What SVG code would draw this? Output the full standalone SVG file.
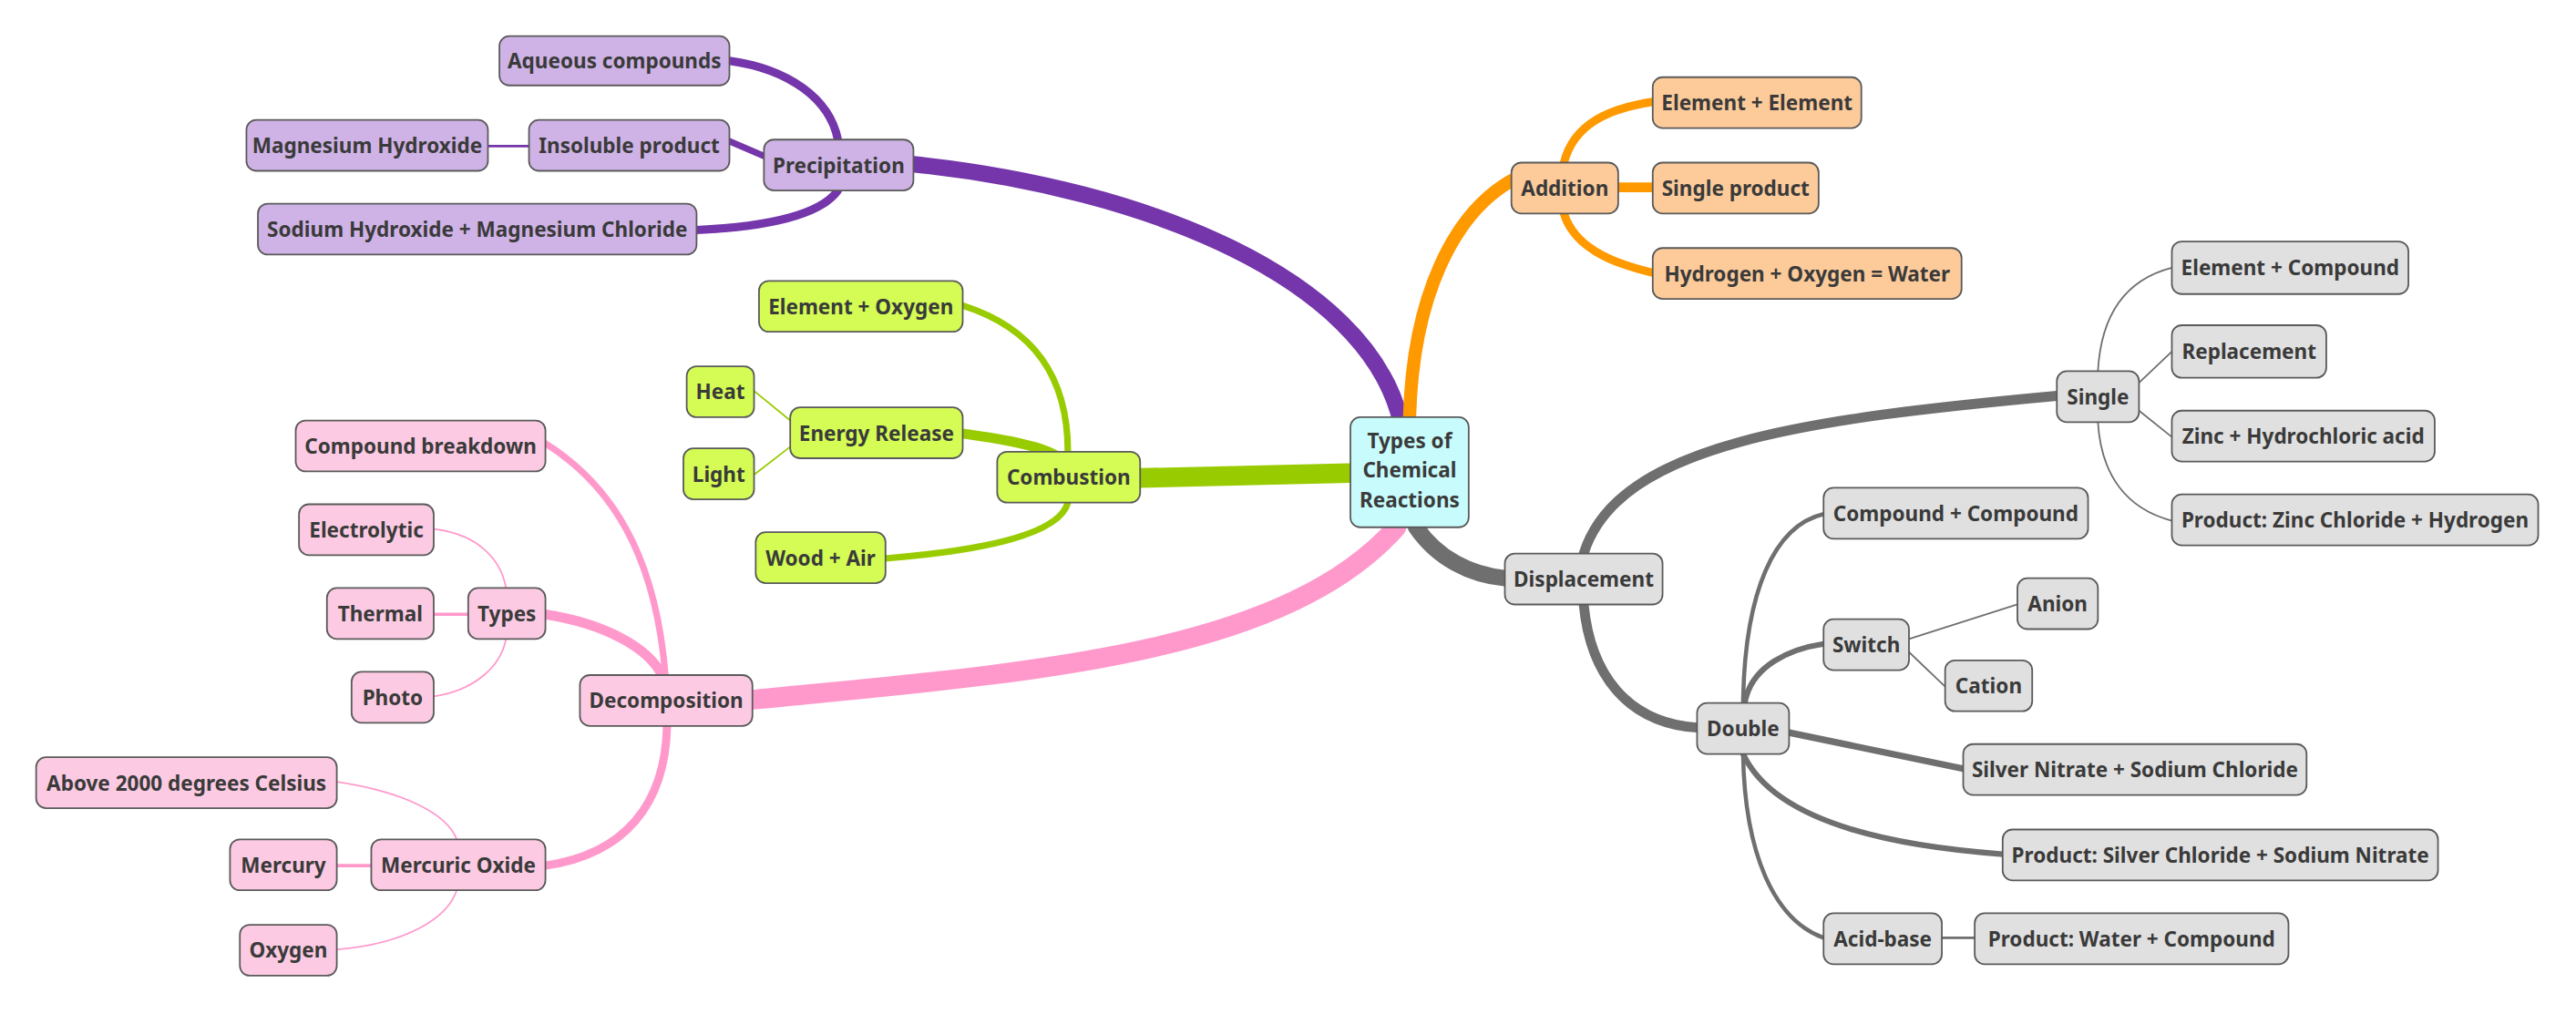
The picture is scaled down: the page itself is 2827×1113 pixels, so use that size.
<svg xmlns="http://www.w3.org/2000/svg" width="2827" height="1113" viewBox="0 0 2827 1113">
<style>
text{font-family:"Noto Sans","DejaVu Sans",sans-serif;font-weight:bold;font-size:12.5px;fill:#3a3a3a;text-anchor:middle;dominant-baseline:central}
rect{stroke:#5a5a5a;stroke-width:1;rx:6px}
.p rect{fill:#cfb3e6}.g rect{fill:#d4fc54}.o rect{fill:#fdcb9a}.k rect{fill:#fccbe3}.y rect{fill:#e0e0e0}
path{fill:none;stroke-linecap:round}
.cp{stroke:#7436aa}.cg{stroke:#99cc00}.co{stroke:#ff9900}.ck{stroke:#ff99cc}.cy{stroke:#6f6f6f}
</style>
<rect x="0" y="0" width="2827" height="1113" style="fill:#fff;stroke:none"/>
<g transform="scale(1.80293)">
<g id="connectors">
<path class="cp" stroke-width="10" d="M852,254 C830,170 700,115 556,100"/>
<path class="cp" stroke-width="5" d="M510,85 C505,60 480,42 444,37"/>
<path class="cp" stroke-width="4" d="M465,95 L444,86"/>
<path class="cp" stroke-width="1.5" d="M322,89 L297,89"/>
<path class="cp" stroke-width="5" d="M510,116 C500,130 470,138 424,140"/>
<path class="cg" stroke-width="12" d="M822,288 L694,291"/>
<path class="cg" stroke-width="4" d="M650,275 C650,230 630,200 586,186"/>
<path class="cg" stroke-width="6" d="M586,264 C615,268 635,272 644,278"/>
<path class="cg" stroke-width="4" d="M650,306 C645,325 600,335 539,340"/>
<path class="cg" stroke-width="1" d="M459,238 L481,256"/>
<path class="cg" stroke-width="1" d="M459,289 L481,272"/>
<path class="co" stroke-width="8" d="M858,254 C860,180 885,130 920,110"/>
<path class="co" stroke-width="5" d="M952,99 C958,75 980,66 1006,62"/>
<path class="co" stroke-width="6" d="M985,114 L1006,114"/>
<path class="co" stroke-width="5" d="M952,130 C958,150 980,160 1006,166"/>
<path class="ck" stroke-width="12" d="M850,321 C780,400 620,410 458,426"/>
<path class="ck" stroke-width="4" d="M332,270 C380,300 400,350 405,411"/>
<path class="ck" stroke-width="6" d="M332,374 C370,380 395,395 403,411"/>
<path class="ck" stroke-width="5" d="M406,442 C405,490 380,520 332,527"/>
<path class="ck" stroke-width="1" d="M308,358 C305,340 290,325 264,322"/>
<path class="ck" stroke-width="2" d="M264,374 L285,374"/>
<path class="ck" stroke-width="1" d="M308,389 C305,405 290,420 264,424"/>
<path class="ck" stroke-width="1" d="M278,511 C272,495 245,482 205,476"/>
<path class="ck" stroke-width="2" d="M205,527 L226,527"/>
<path class="ck" stroke-width="1" d="M278,542 C272,560 245,575 205,578"/>
<path class="cy" stroke-width="10" d="M862,321 C875,340 895,350 916,352"/>
<path class="cy" stroke-width="6" d="M964,337 C985,270 1100,255 1252,241"/>
<path class="cy" stroke-width="6" d="M964,368 C968,410 990,440 1033,443"/>
<path class="cy" stroke-width="1" d="M1277,226 C1279,190 1295,170 1322,163"/>
<path class="cy" stroke-width="1" d="M1302,233 L1322,214"/>
<path class="cy" stroke-width="1" d="M1302,250 L1322,266"/>
<path class="cy" stroke-width="1" d="M1277,257 C1279,290 1295,310 1322,317"/>
<path class="cy" stroke-width="2.5" d="M1061,428 C1062,360 1080,320 1110,313"/>
<path class="cy" stroke-width="3.5" d="M1062,428 C1066,405 1090,395 1110,392"/>
<path class="cy" stroke-width="4" d="M1089,446 L1195,468"/>
<path class="cy" stroke-width="3.5" d="M1061,459 C1080,500 1150,515 1219,520"/>
<path class="cy" stroke-width="2.5" d="M1061,459 C1062,520 1080,560 1110,571"/>
<path class="cy" stroke-width="1" d="M1162,389 L1228,368"/>
<path class="cy" stroke-width="1" d="M1162,397 L1184,418"/>
<path class="cy" stroke-width="1.5" d="M1182,571 L1202,571"/>
</g>
<g id="root"><rect x="822" y="254" width="72" height="67" style="fill:#c8fcfc"/><text x="858" y="268">Types of</text><text x="858" y="286">Chemical</text><text x="858" y="304">Reactions</text></g>
<g class="p">
<g id="precipitation"><rect x="465" y="85" width="91" height="31"/><text x="510.5" y="100.5">Precipitation</text></g>
<g id="aqueous"><rect x="304" y="22" width="140" height="30"/><text x="374" y="37">Aqueous compounds</text></g>
<g id="insoluble"><rect x="322" y="73" width="122" height="31"/><text x="383" y="88.5">Insoluble product</text></g>
<g id="mghydroxide"><rect x="150" y="73" width="147" height="31"/><text x="223.5" y="88.5">Magnesium Hydroxide</text></g>
<g id="naoh"><rect x="157" y="124" width="267" height="31"/><text x="290.5" y="139.5">Sodium Hydroxide + Magnesium Chloride</text></g>
</g>
<g class="g">
<g id="combustion"><rect x="607" y="275" width="87" height="31"/><text x="650.5" y="290.5">Combustion</text></g>
<g id="elemoxy"><rect x="462" y="171" width="124" height="31"/><text x="524" y="186.5">Element + Oxygen</text></g>
<g id="energy"><rect x="481" y="248" width="105" height="31"/><text x="533.5" y="263.5">Energy Release</text></g>
<g id="heat"><rect x="418" y="223" width="41" height="31"/><text x="438.5" y="238.5">Heat</text></g>
<g id="light"><rect x="416" y="273" width="43" height="31"/><text x="437.5" y="288.5">Light</text></g>
<g id="wood"><rect x="460" y="324" width="79" height="31"/><text x="499.5" y="339.5">Wood + Air</text></g>
</g>
<g class="o">
<g id="addition"><rect x="920" y="99" width="65" height="31"/><text x="952.5" y="114.5">Addition</text></g>
<g id="elemelem"><rect x="1006" y="47" width="127" height="31"/><text x="1069.5" y="62.5">Element + Element</text></g>
<g id="singleproduct"><rect x="1006" y="99" width="101" height="31"/><text x="1056.5" y="114.5">Single product</text></g>
<g id="water"><rect x="1006" y="151" width="188" height="31"/><text x="1100" y="166.5">Hydrogen + Oxygen = Water</text></g>
</g>
<g class="k">
<g id="decomposition"><rect x="353" y="411" width="105" height="31"/><text x="405.5" y="426.5">Decomposition</text></g>
<g id="breakdown"><rect x="180" y="256" width="152" height="31"/><text x="256" y="271.5">Compound breakdown</text></g>
<g id="types"><rect x="285" y="358" width="47" height="31"/><text x="308.5" y="373.5">Types</text></g>
<g id="electrolytic"><rect x="182" y="307" width="82" height="31"/><text x="223" y="322.5">Electrolytic</text></g>
<g id="thermal"><rect x="199" y="358" width="65" height="31"/><text x="231.5" y="373.5">Thermal</text></g>
<g id="photo"><rect x="214" y="409" width="50" height="31"/><text x="239" y="424.5">Photo</text></g>
<g id="mercuric"><rect x="226" y="511" width="106" height="31"/><text x="279" y="526.5">Mercuric Oxide</text></g>
<g id="above"><rect x="22" y="461" width="183" height="31"/><text x="113.5" y="476.5">Above 2000 degrees Celsius</text></g>
<g id="mercury"><rect x="140" y="511" width="65" height="31"/><text x="172.5" y="526.5">Mercury</text></g>
<g id="oxygen"><rect x="146" y="563" width="59" height="31"/><text x="175.5" y="578.5">Oxygen</text></g>
</g>
<g class="y">
<g id="displacement"><rect x="916" y="337" width="96" height="31"/><text x="964" y="352.5">Displacement</text></g>
<g id="single"><rect x="1252" y="226" width="50" height="31"/><text x="1277" y="241.5">Single</text></g>
<g id="elemcomp"><rect x="1322" y="147" width="144" height="32"/><text x="1394" y="163">Element + Compound</text></g>
<g id="replacement"><rect x="1322" y="198" width="94" height="32"/><text x="1369" y="214">Replacement</text></g>
<g id="zinc"><rect x="1322" y="250" width="160" height="31"/><text x="1402" y="265.5">Zinc + Hydrochloric acid</text></g>
<g id="znprod"><rect x="1322" y="301" width="223" height="31"/><text x="1433.5" y="316.5">Product: Zinc Chloride + Hydrogen</text></g>
<g id="double"><rect x="1033" y="428" width="56" height="31"/><text x="1061" y="443.5">Double</text></g>
<g id="compcomp"><rect x="1110" y="297" width="161" height="31"/><text x="1190.5" y="312.5">Compound + Compound</text></g>
<g id="switch"><rect x="1110" y="377" width="52" height="31"/><text x="1136" y="392.5">Switch</text></g>
<g id="anion"><rect x="1228" y="352" width="49" height="31"/><text x="1252.5" y="367.5">Anion</text></g>
<g id="cation"><rect x="1184" y="402" width="53" height="31"/><text x="1210.5" y="417.5">Cation</text></g>
<g id="silvernitrate"><rect x="1195" y="453" width="209" height="31"/><text x="1299.5" y="468.5">Silver Nitrate + Sodium Chloride</text></g>
<g id="silverprod"><rect x="1219" y="505" width="265" height="31"/><text x="1351.5" y="520.5">Product: Silver Chloride + Sodium Nitrate</text></g>
<g id="acidbase"><rect x="1110" y="556" width="72" height="31"/><text x="1146" y="571.5">Acid-base</text></g>
<g id="waterprod"><rect x="1202" y="556" width="191" height="31"/><text x="1297.5" y="571.5">Product: Water + Compound</text></g>
</g>
</g>
</svg>
